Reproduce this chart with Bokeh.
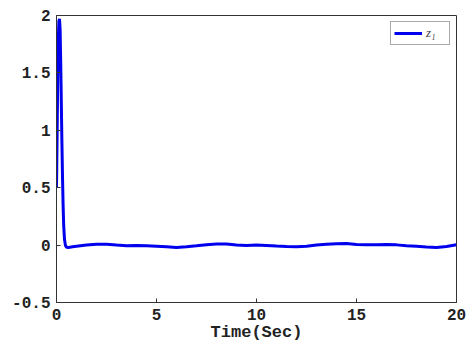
from bokeh.plotting import figure
from bokeh.embed import file_html
from bokeh.resources import INLINE
from bokeh.models import Range1d, FixedTicker, Legend, LegendItem

t = [0.0, 0.03, 0.06, 0.09, 0.12, 0.15, 0.18, 0.21, 0.24, 0.27, 0.30, 0.33, 0.36, 0.40,
     0.45, 0.50, 0.6, 0.8, 1.0, 1.5, 2.0, 2.5, 3.0, 3.5, 4.0, 4.5, 5.0, 5.5, 6.0, 6.5,
     7.0, 7.5, 8.0, 8.5, 9.0, 9.5, 10.0, 10.5, 11.0, 11.5, 12.0, 12.5, 13.0, 13.5, 14.0,
     14.5, 15.0, 15.5, 16.0, 16.5, 17.0, 17.5, 18.0, 18.5, 19.0, 19.5, 20.0]
z1 = [0.5, 0.95, 1.45, 1.8, 1.95, 1.97, 1.88, 1.6, 1.25, 0.9, 0.6, 0.35, 0.17, 0.05,
      -0.005, -0.018, -0.02, -0.015, -0.01, 0.0, 0.008, 0.007, 0.0, -0.005, -0.003, -0.006,
      -0.01, -0.015, -0.02, -0.015, -0.006, 0.004, 0.01, 0.009, 0.0, -0.004, 0.0, -0.003,
      -0.008, -0.012, -0.015, -0.01, 0.0, 0.008, 0.012, 0.014, 0.006, 0.003, 0.004, 0.005,
      0.002, -0.005, -0.01, -0.017, -0.02, -0.012, 0.003]

x_ticks = [0, 5, 10, 15, 20]
y_ticks = [-0.5, 0, 0.5, 1, 1.5, 2]
y_labels = {-0.5: "-0.5", 0: "0", 0.5: "0.5", 1: "1", 1.5: "1.5", 2: "2"}

p = figure(width=474, height=349, output_backend="svg", toolbar_location=None,
           x_range=Range1d(0, 20), y_range=Range1d(-0.5, 2),
           min_border_left=56, min_border_right=18, min_border_top=15, min_border_bottom=47)
p.background_fill_color = "white"
p.border_fill_color = "white"
p.outline_line_color = "#333333"
p.outline_line_width = 1
p.xgrid.visible = False
p.ygrid.visible = False

r = p.line(t, z1, line_color="#0000ee", line_width=3)

font = "Liberation Mono"
for ax in (p.xaxis[0], p.yaxis[0]):
    ax.axis_line_color = "#333333"
    ax.major_tick_line_color = "#333333"
    ax.major_tick_in = 4
    ax.major_tick_out = 0
    ax.minor_tick_line_color = None
    ax.major_label_text_font = font
    ax.major_label_text_font_size = "16px"
    ax.major_label_text_font_style = "bold"
    ax.major_label_text_color = "#222222"

p.xaxis.ticker = FixedTicker(ticks=x_ticks)
p.yaxis.ticker = FixedTicker(ticks=y_ticks)
p.yaxis.major_label_overrides = {k: v for k, v in y_labels.items()}
p.xaxis.major_label_standoff = 6
p.yaxis.major_label_standoff = 6
p.xaxis.axis_label = "Time(Sec)"
p.xaxis.axis_label_text_font = font
p.xaxis.axis_label_text_font_size = "17px"
p.xaxis.axis_label_text_font_style = "bold"
p.xaxis.axis_label_standoff = 0
p.xaxis.axis_label_text_color = "#222222"

legend = Legend(items=[LegendItem(label="z\u2081", renderers=[r])],
                location="top_right",
                label_text_font="Liberation Serif", label_text_font_style="italic",
                label_text_font_size="13px", border_line_color="#555555",
                border_line_width=1, padding=3, spacing=0, margin=6,
                glyph_width=28, glyph_height=14, label_standoff=4,
                label_height=14, background_fill_alpha=1.0)
p.add_layout(legend)

open("out.html", "w").write(file_html(p, INLINE))
